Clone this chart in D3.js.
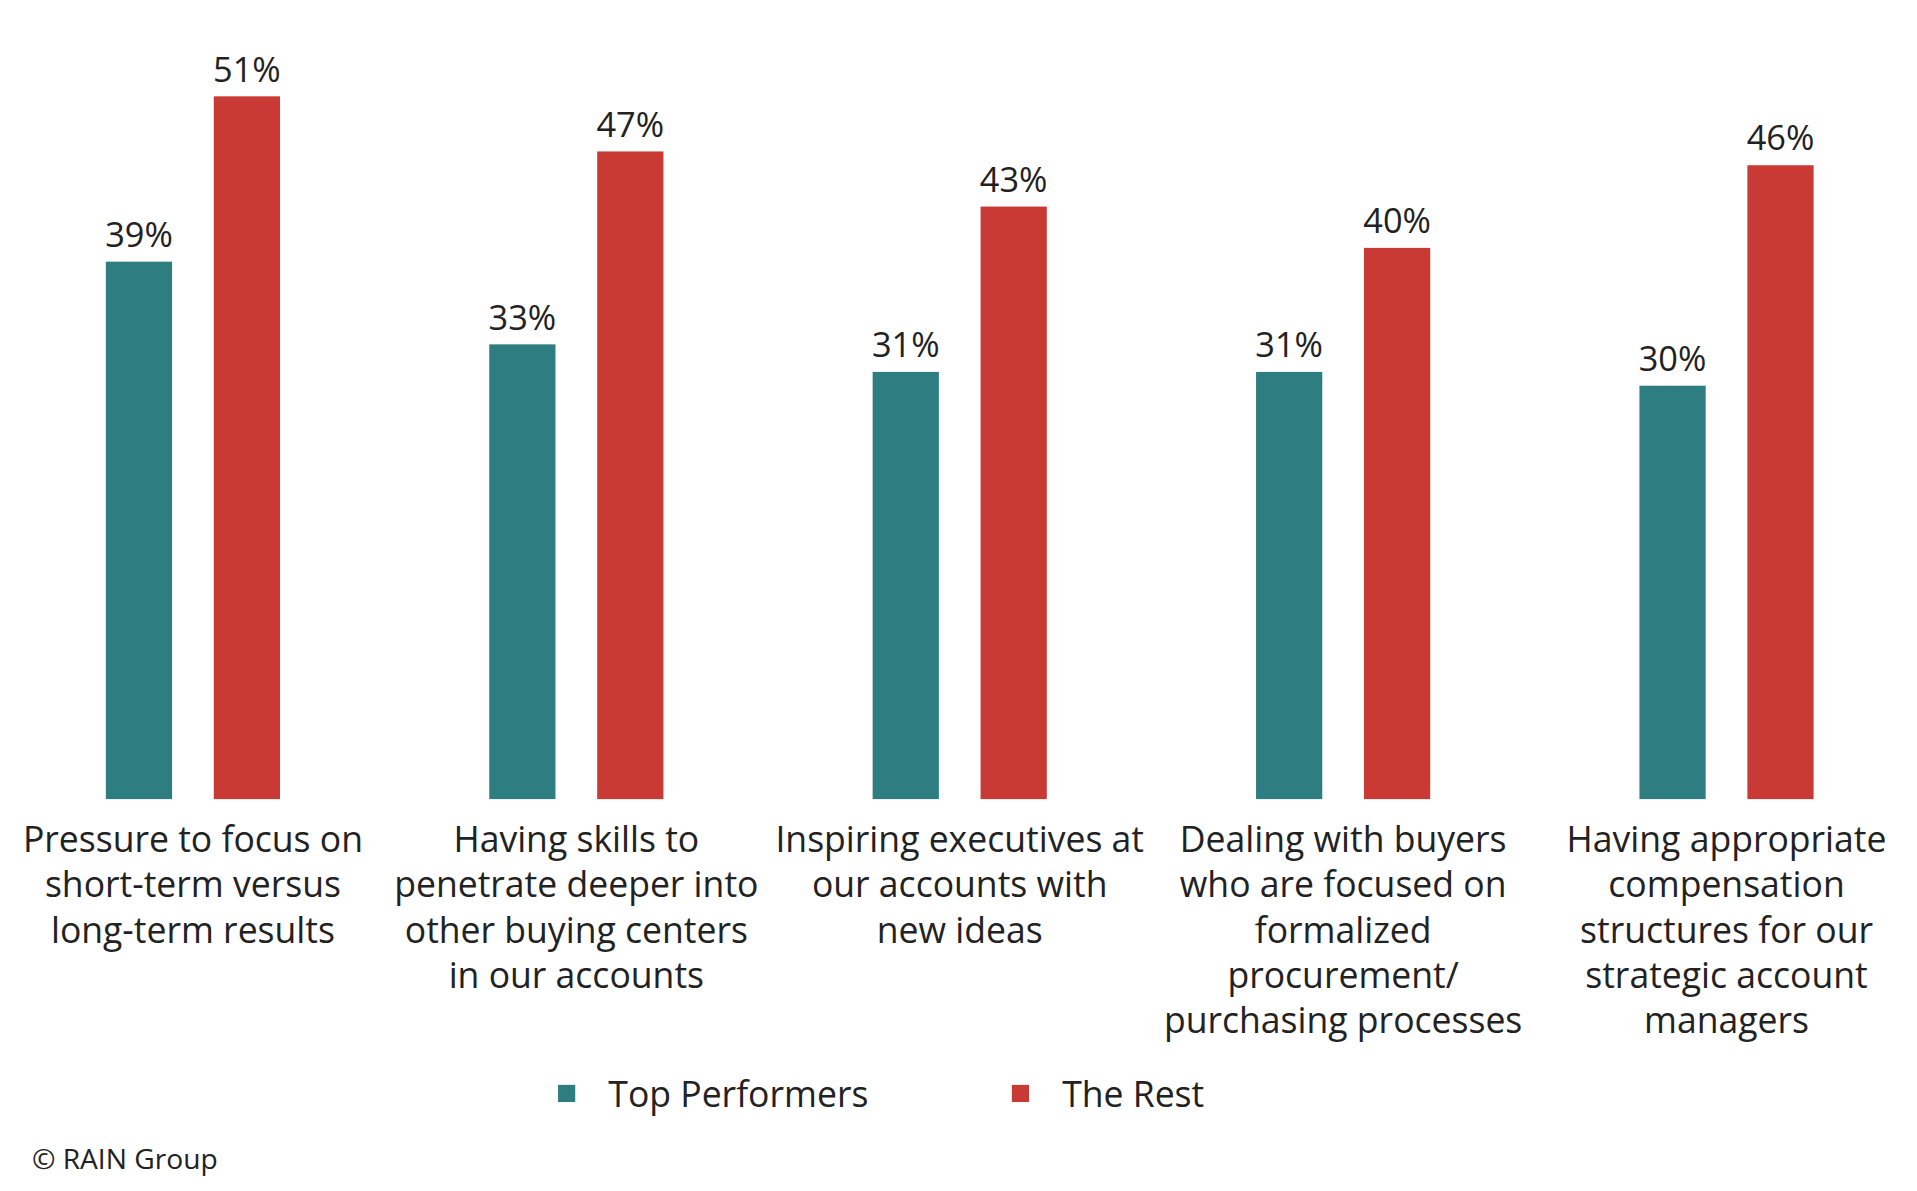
<!DOCTYPE html>
<html><head><meta charset="utf-8">
<script src="https://cdn.jsdelivr.net/npm/d3@7"></script>
<style>body{margin:0;background:#fff}text{font-family:"Open Sans",sans-serif;fill:#222}</style>
</head><body><svg id="c"></svg>
<script>
const categories = [
  ["Pressure to focus on","short-term versus","long-term results"],
  ["Having skills to","penetrate deeper into","other buying centers","in our accounts"],
  ["Inspiring executives at","our accounts with","new ideas"],
  ["Dealing with buyers","who are focused on","formalized","procurement/","purchasing processes"],
  ["Having appropriate","compensation","structures for our","strategic account","managers"]
];
const topPerformers = [39,33,31,31,30];
const theRest = [51,47,43,40,46];
const seriesNames = ["Top Performers","The Rest"];
const colors = ["#2E7E81","#C93A35"];

const W=1563,H=970;
const svg=d3.select("#c").attr("width",1917).attr("height",1191).attr("viewBox",`0 0 ${W} ${H}`);
const x=d3.scaleBand().domain(d3.range(5)).range([1,1564]).paddingInner(0).paddingOuter(0);
const y=d3.scaleLinear().domain([0,51]).range([651,78]);
const barW=54, gap=34;
const series=[topPerformers,theRest];
series.forEach((vals,si)=>{
  const g=svg.append("g");
  const cx=i=>x(i)+x.bandwidth()/2 + (si===0?-(gap/2+barW):gap/2);
  g.selectAll("rect").data(vals).join("rect")
    .attr("x",(d,i)=>cx(i)).attr("width",barW)
    .attr("y",d=>y(d)).attr("height",d=>y(0)-y(d)).attr("fill",colors[si]);
  g.selectAll("text").data(vals).join("text")
    .attr("x",(d,i)=>cx(i)+barW/2).attr("y",d=>y(d)-12)
    .attr("text-anchor","middle").attr("font-size",28).text(d=>d+"%");
});
categories.forEach((lines,i)=>{
  const t=svg.append("text").attr("text-anchor","middle").attr("font-size",29);
  lines.forEach((l,j)=>t.append("tspan").attr("x",x(i)+x.bandwidth()/2).attr("y",694+j*37).text(l));
});
const leg=[[455,496],[825,866]];
seriesNames.forEach((n,i)=>{
  svg.append("rect").attr("x",leg[i][0]).attr("y",884).attr("width",14).attr("height",14).attr("fill",colors[i]);
  svg.append("text").attr("x",leg[i][1]).attr("y",902).attr("font-size",29).text(n);
});
svg.append("text").attr("x",26).attr("y",953).attr("font-size",23).text("© RAIN Group");
</script></body></html>
